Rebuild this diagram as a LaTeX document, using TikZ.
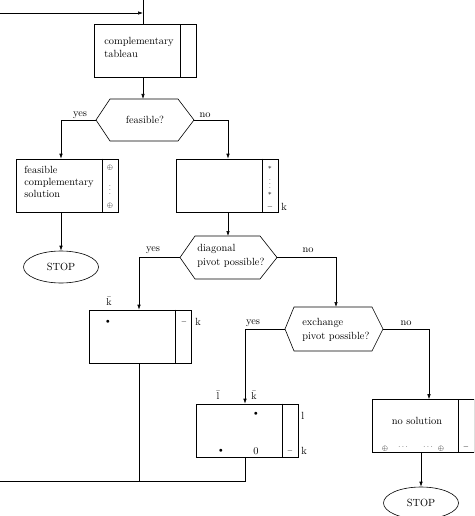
\documentclass[tikz,border=0pt]{standalone}
\usetikzlibrary{arrows.meta,shapes.geometric}
\begin{document}
\begin{tikzpicture}[x=1pt,y=-1pt,line width=0.6pt,
  box/.style={draw,rectangle,inner sep=0pt,minimum width=102pt,minimum height=53pt},
  arr/.style={-{Latex[length=5pt,width=3.5pt]}},
  lbl/.style={font=\fontsize{10.4}{12.5}\selectfont,inner sep=0pt},
  sym/.style={font=\scriptsize,inner sep=0pt},
  stopnode/.style={draw,ellipse,minimum width=75pt,minimum height=32pt,inner sep=0pt,font=\fontsize{10.4}{12.5}\selectfont}]
\useasboundingbox (0,0) rectangle (474,516);
\clip (0,0) rectangle (474,516);

% boxes
\node[box] (ct) at (145,51) {};
\draw ([xshift=-16pt]ct.north east) -- ([xshift=-16pt]ct.south east);
\node[lbl,align=left,anchor=north west,font=\fontsize{10.4}{13}\selectfont] (cttxt) at (104,37) {complementary\\tableau};

\node[box] (fcs) at (67,185.5) {};
\draw ([xshift=-16pt]fcs.north east) -- ([xshift=-16pt]fcs.south east);
\node[lbl,align=left,anchor=north west,font=\fontsize{10.4}{12}\selectfont] (fcstxt) at (24,166) {feasible\\complementary\\solution};
\node[sym] (fs1) at (110,168) {$\oplus$};
\node[sym] (fs2) at (110,187) {$\vdots$};
\node[sym] (fs3) at (110,206) {$\oplus$};

\node[box] (rbox) at (227,185.5) {};
\draw ([xshift=-16pt]rbox.north east) -- ([xshift=-16pt]rbox.south east);
\node[sym] (rs1) at (270,168) {$*$};
\node[sym] (rs2) at (270,181) {$\vdots$};
\node[sym] (rs3) at (270,194) {$*$};
\node[sym] (rs4) at (270,207) {$-$};
\node[lbl,anchor=west] (rk) at (281,207) {k};

\node[box] (kbox) at (140,336.5) {};
\draw ([xshift=-16pt]kbox.north east) -- ([xshift=-16pt]kbox.south east);
\node[lbl] (kbar) at (109,301) {$\bar{\mathrm{k}}$};
\node[sym] (kd) at (108,322) {$\bullet$};
\node[sym] (km) at (184,322) {$-$};
\node[lbl,anchor=west] (kk) at (195,322) {k};

\node[box] (lkbox) at (247,430.5) {};
\draw ([xshift=-16pt]lkbox.north east) -- ([xshift=-16pt]lkbox.south east);
\node[lbl] (lbar) at (218,395) {$\bar{\mathrm{l}}$};
\node[lbl] (lkbar) at (254,395) {$\bar{\mathrm{k}}$};
\node[sym] (ld1) at (256,414) {$\bullet$};
\node[sym] (ld2) at (221,451) {$\bullet$};
\node[lbl] (lz) at (256,451) {0};
\node[sym] (lm) at (290,451) {$-$};
\node[lbl,anchor=west] (ll) at (301,416) {l};
\node[lbl,anchor=west] (lk) at (301,451) {k};

\node[box] (nsbox) at (423,426) {};
\draw ([xshift=-16pt]nsbox.north east) -- ([xshift=-16pt]nsbox.south east);
\node[lbl] (nstxt) at (417,421) {no solution};
\node[sym] (n1) at (385,449) {$\oplus$};
\node[sym] (n2) at (403,447) {$\ldots$};
\node[sym] (n3) at (428,447) {$\ldots$};
\node[sym] (n4) at (441,449) {$\oplus$};
\node[sym] (n5) at (466,447) {$-$};

% hexagons
\coordinate (fl) at (96,120); \coordinate (fr) at (194,120); \coordinate (ft) at (143,99);
\draw (fl) -- (110,99) -- (178,99) -- (fr) -- (178,141) -- (110,141) -- cycle;
\node[lbl] (feastxt) at (145,120) {feasible?};

\coordinate (dl) at (180,257.5); \coordinate (dr) at (277,257.5); \coordinate (dt) at (228,236);
\draw (dl) -- (195,236) -- (260,236) -- (dr) -- (260,279) -- (195,279) -- cycle;
\node[lbl,align=left,anchor=west,font=\fontsize{10.4}{14}\selectfont] (dpptxt) at (197,256) {diagonal\\pivot possible?};

\coordinate (el) at (285,329); \coordinate (er) at (383,329); \coordinate (et) at (336,307);
\draw (el) -- (294,307) -- (372,307) -- (er) -- (372,351) -- (294,351) -- cycle;
\node[lbl,align=left,anchor=west,font=\fontsize{10.4}{14}\selectfont] (epptxt) at (302,330) {exchange\\pivot possible?};

% stops
\node[stopnode] (stop1) at (61,267) {STOP};
\node[stopnode] (stop2) at (421,503) {STOP};

% connectors
\coordinate (topin) at (143,0);
\coordinate (loopin) at (0,13);
\coordinate (bot) at (0,481);
\draw (topin) -- (topin |- ct.north);
\draw[arr] (loopin) -- (topin |- loopin);
\draw[arr] (ft |- ct.south) -- (ft);
\draw[arr] (fl) -| (stop1 |- fcs.north);
\draw[arr] (stop1 |- fcs.south) -- (stop1.north);
\draw[arr] (fr) -| (dt |- rbox.north);
\draw[arr] (dt |- rbox.south) -- (dt);
\draw[arr] (dl) -| ([xshift=-1pt]kbox.north);
\draw[arr] (dr) -| (et);
\draw[arr] (el) -| ([xshift=-2pt]lkbox.north);
\draw[arr] (er) -| ([xshift=6pt]nsbox.north);
\draw[arr] ([xshift=-2pt]nsbox.south) -- (stop2.north);
\draw ([xshift=-1pt]kbox.south) -- ([xshift=-1pt]kbox.south |- bot);
\draw ([xshift=-2pt]lkbox.south) |- (bot);

% branch labels
\node[lbl] (y1) at (80,115) {yes};
\node[lbl] (n1l) at (205,115) {no};
\node[lbl] (y2) at (153,250) {yes};
\node[lbl] (n2l) at (308,250) {no};
\node[lbl] (y3) at (253,323) {yes};
\node[lbl] (n3l) at (406,323) {no};
\end{tikzpicture}
\end{document}
